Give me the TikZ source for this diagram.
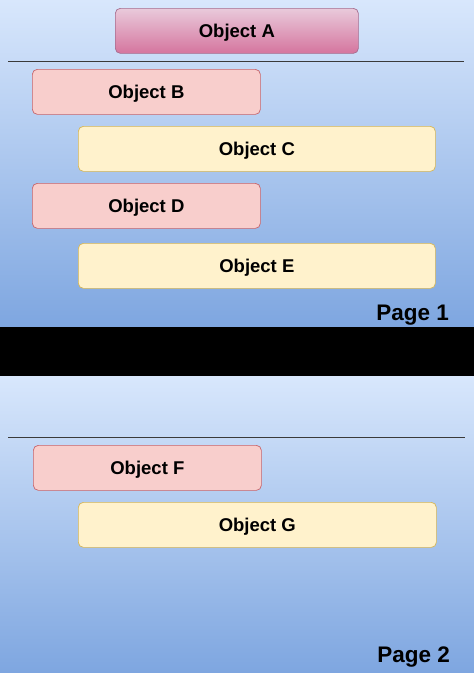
\documentclass[tikz,border=0pt]{standalone}
\usepackage{fontspec}
\setmainfont{Liberation Sans}
\definecolor{pagetop}{HTML}{D8E7FC}
\definecolor{pagebot}{HTML}{7EA6E0}
\definecolor{atop}{HTML}{E9CADB}
\definecolor{abot}{HTML}{D5759E}
\definecolor{astroke}{HTML}{A56C8E}
\definecolor{pinkfill}{HTML}{F8CECC}
\definecolor{pinkstroke}{HTML}{C8646A}
\definecolor{yelfill}{HTML}{FFF2CC}
\definecolor{yelstroke}{HTML}{D6B656}
\definecolor{sepline}{HTML}{3A3A3A}
\begin{document}
\begin{tikzpicture}[x=1pt,y=-1pt,
  obj/.style={rounded corners=5pt, line width=0.7pt, anchor=north west,
    font=\bfseries\fontsize{18.5}{20}\selectfont, text height=14pt, text depth=0pt,
    inner sep=0pt, minimum height=45pt},
  objA/.style={obj, draw=astroke, top color=atop, bottom color=abot},
  pinkobj/.style={obj, draw=pinkstroke, fill=pinkfill},
  yelobj/.style={obj, draw=yelstroke, fill=yelfill},
  pagelbl/.style={anchor=base east, inner sep=0pt, font=\bfseries\fontsize{22.5}{24}\selectfont},
  sep/.style={draw=sepline, line width=0.9pt}]
\useasboundingbox (0,0) rectangle (474,673);
% pages
\shade[top color=pagetop, bottom color=pagebot] (0,0) rectangle (474,327);
\fill[black] (0,327) rectangle (474,376);
\shade[top color=pagetop, bottom color=pagebot] (0,376) rectangle (474,673);
% page 1
\node[objA, minimum width=243pt] (A) at (115,8) {Object A};
\coordinate (s1a) at (8,61);
\coordinate (s1b) at (464,61);
\draw[sep] (s1a) -- (s1b);
\node[pinkobj, minimum width=228pt] (B) at (32,69) {Object B};
\node[yelobj, minimum width=357pt] (C) at (78,126) {Object C};
\node[pinkobj, minimum width=228pt] (D) at (32,183) {Object D};
\node[yelobj, minimum width=357pt] (E) at (78,243) {Object E};
\node[pagelbl] (P1) at (449,320.5) {Page 1};
% page 2
\coordinate (s2a) at (8,437);
\coordinate (s2b) at (465,437);
\draw[sep] (s2a) -- (s2b);
\node[pinkobj, minimum width=228pt] (F) at (33,445) {Object F};
\node[yelobj, minimum width=358pt] (G) at (78,502) {Object G};
\node[pagelbl] (P2) at (450,662.5) {Page 2};
\end{tikzpicture}
\end{document}
